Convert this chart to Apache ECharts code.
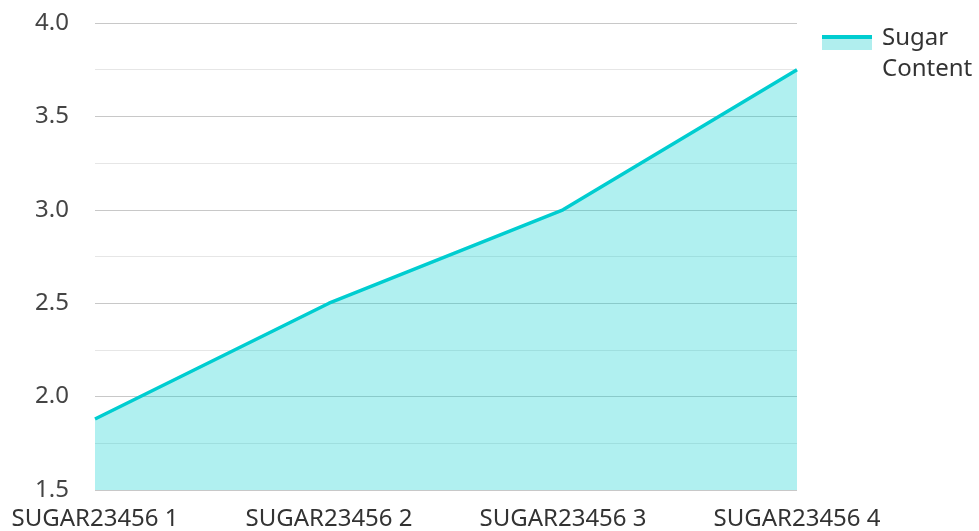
<!DOCTYPE html>
<html>
<head>
    <meta charset="utf-8">
    <title>Sugar Content</title>
    <script src="https://cdn.jsdelivr.net/npm/echarts@6/dist/echarts.min.js"></script>
</head>
<body style="margin:0">
<div id="chart" style="width:979px;height:531px"></div>
<script>
    var categories = ['SUGAR23456 1', 'SUGAR23456 2', 'SUGAR23456 3', 'SUGAR23456 4'];
    var sugarValues = [1.88, 2.5, 3.0, 3.75];
    var seriesName = 'Sugar Content';

    // legend icon: line on top of an area swatch, padded below so it sits by the first text line
    var legendIcon = 'image://data:image/svg+xml;charset=utf-8,' + encodeURIComponent(
        '<svg xmlns="http://www.w3.org/2000/svg" width="50" height="38" viewBox="0 0 50 38">' +
        '<rect x="0" y="0" width="50" height="15" fill="#b0eeee"/>' +
        '<rect x="0" y="0" width="50" height="4" fill="#00cdd0"/>' +
        '</svg>');

    var myChart = echarts.init(document.getElementById('chart'));
    var option = {
        textStyle: {fontFamily: 'Noto Sans'},
        grid: {left: 95, right: 182, top: 23, bottom: 41},
        legend: {
            data: [{name: seriesName, icon: legendIcon}],
            left: 817,
            top: 18,
            itemWidth: 50,
            itemHeight: 38,
            itemGap: 10,
            formatter: function (name) { return name.replace(' ', '\n'); },
            textStyle: {fontSize: 24, color: '#333', lineHeight: 31, padding: [0, 0, 0, 5]}
        },
        xAxis: {
            type: 'category',
            data: categories,
            boundaryGap: false,
            axisLine: {show: false},
            axisTick: {show: false},
            axisLabel: {fontSize: 24, color: '#333', margin: 17}
        },
        yAxis: {
            type: 'value',
            min: 1.5,
            max: 4.0,
            interval: 0.5,
            axisLabel: {
                fontSize: 24, color: '#444', margin: 26,
                formatter: function (v) { return v.toFixed(1); }
            },
            splitLine: {lineStyle: {color: '#c8c8c8', width: 1}},
            minorTick: {show: false, splitNumber: 2},
            minorSplitLine: {show: true, lineStyle: {color: '#e6e6e6', width: 1}}
        },
        series: [{
            name: seriesName,
            type: 'line',
            data: sugarValues,
            symbol: 'none',
            lineStyle: {color: '#00cdd0', width: 3.5},
            itemStyle: {color: '#00cdd0'},
            areaStyle: {color: 'rgba(0,205,208,0.31)', opacity: 1}
        }]
    };
    myChart.setOption(option);
</script>
</body>
</html>
